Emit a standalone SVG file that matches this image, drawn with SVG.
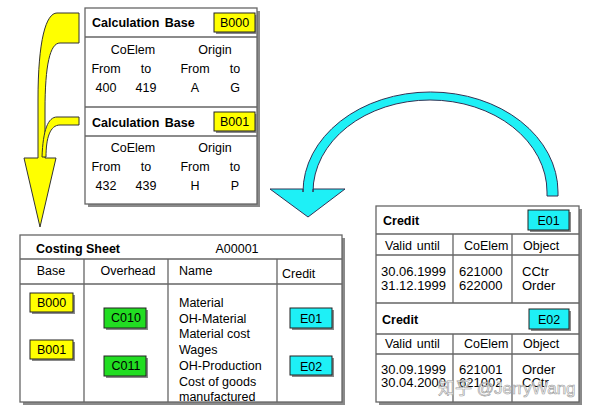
<svg xmlns="http://www.w3.org/2000/svg" width="600" height="417" viewBox="0 0 600 417">
<style>
text{font-family:"Liberation Sans",Arial,sans-serif;font-size:12.5px;fill:#000}
.b{font-weight:bold}
.m{text-anchor:middle}
.box{fill:#fff;stroke:#666;stroke-width:1.3}
.sh{fill:#8a8a8a}
.ln{stroke:#666;stroke-width:1.3;fill:none}
.tag{stroke:#222;stroke-width:1}
.y{fill:#ffff00}
.g{fill:#22dd22}
.c{fill:#1ef0f6}
.d{font-size:13px}
</style>
<g id="connectors">
<path id="yellow-arrow" d="M79,13 L57,13 C46,13 38,40 38,100 L38,158 L24,158 L40,227 L56,158 L45,158 L45,110 C45,65 50,43 60,43 L79,43 Z" fill="#ffff00" stroke="#333" stroke-width="1"/>
<path id="yellow-branch" d="M79,117 L57,117 C48,117 43,130 42,157 L46,157 C46,138 50,125 60,125 L79,125 Z" fill="#ffff00" stroke="#333" stroke-width="1"/>
<path id="cyan-arrow" d="M558,196 L558,192 A127.5,100 0 0 0 303,192 L303,189 L270,189 L308,217 L345,189 L313,189 L313,192 A117,92 0 0 1 547,192 L547,196 Z" fill="#1ef0f6" stroke="#335" stroke-width="1"/>
</g>
<g id="calc-base">
<rect class="sh" x="88" y="11" width="172" height="196"/>
<rect class="box" x="85" y="8" width="172" height="196"/>
<path class="ln" d="M85,37H257M85,107H257M85,136H257"/>
<text class="b" x="92" y="27" word-spacing="2">Calculation Base</text>
<rect class="sh" x="216" y="15" width="41" height="19"/>
<rect class="tag y" x="214" y="13" width="41" height="19"/>
<text class="m" x="234.5" y="27">B000</text>
<text class="m" x="133" y="54">CoElem</text>
<text class="m" x="215" y="54">Origin</text>
<text class="m" x="106" y="73">From</text>
<text class="m" x="146" y="73">to</text>
<text class="m" x="195" y="73">From</text>
<text class="m" x="235" y="73">to</text>
<text class="m" x="106" y="92">400</text>
<text class="m" x="146" y="92">419</text>
<text class="m" x="195" y="92">A</text>
<text class="m" x="235" y="92">G</text>
<text class="b" x="92" y="127" word-spacing="2">Calculation Base</text>
<rect class="sh" x="216" y="114" width="41" height="19"/>
<rect class="tag y" x="214" y="112" width="41" height="19"/>
<text class="m" x="234.5" y="126">B001</text>
<text class="m" x="133" y="152">CoElem</text>
<text class="m" x="215" y="152">Origin</text>
<text class="m" x="106" y="171">From</text>
<text class="m" x="146" y="171">to</text>
<text class="m" x="195" y="171">From</text>
<text class="m" x="235" y="171">to</text>
<text class="m" x="106" y="190">432</text>
<text class="m" x="146" y="190">439</text>
<text class="m" x="195" y="190">H</text>
<text class="m" x="235" y="190">P</text>
</g>
<g id="costing-sheet">
<rect class="sh" x="23" y="238" width="322" height="167"/>
<rect class="box" x="20" y="235" width="322" height="167"/>
<path class="ln" d="M20,259H342M20,284H342M84,259V402M168,259V402M277,259V402"/>
<text class="b" x="36" y="253">Costing Sheet</text>
<text class="m" x="237" y="253">A00001</text>
<text class="m" x="51" y="275">Base</text>
<text class="m" x="128" y="275">Overhead</text>
<text x="179" y="275">Name</text>
<text x="282" y="278">Credit</text>
<rect class="sh" x="32" y="295" width="43" height="19"/>
<rect class="tag y" x="30" y="293" width="43" height="19"/>
<text class="m" x="51.5" y="307">B000</text>
<rect class="sh" x="32" y="342" width="43" height="19"/>
<rect class="tag y" x="30" y="340" width="43" height="19"/>
<text class="m" x="51.5" y="354">B001</text>
<rect class="sh" x="106" y="310" width="42" height="20"/>
<rect class="tag g" x="104" y="308" width="42" height="20"/>
<text class="m" x="126" y="322">C010</text>
<rect class="sh" x="106" y="358" width="42" height="20"/>
<rect class="tag g" x="104" y="356" width="42" height="20"/>
<text class="m" x="126" y="370">C011</text>
<rect class="sh" x="292" y="310" width="42" height="20"/>
<rect class="tag c" x="290" y="308" width="42" height="20"/>
<text class="m" x="311" y="323">E01</text>
<rect class="sh" x="292" y="358" width="42" height="19"/>
<rect class="tag c" x="290" y="356" width="42" height="19"/>
<text class="m" x="311" y="371">E02</text>
<text x="179" y="307">Material</text>
<text x="179" y="323">OH-Material</text>
<text x="179" y="338">Material cost</text>
<text x="179" y="354">Wages</text>
<text x="179" y="370">OH-Production</text>
<text x="179" y="386">Cost of goods</text>
<text x="179" y="401">manufactured</text>
</g>
<g id="credit">
<rect class="sh" x="379" y="209" width="203" height="196"/>
<rect class="box" x="376" y="206" width="203" height="196"/>
<path class="ln" d="M376,234H579M376,255H579M376,303H579M376,334H579M376,354H579M453,234V303M512,234V303M453,334V402M512,334V402"/>
<text class="b" x="383" y="225">Credit</text>
<rect class="sh" x="530" y="212" width="41" height="20"/>
<rect class="tag c" x="528" y="210" width="41" height="20"/>
<text class="m" x="548.5" y="225">E01</text>
<text x="385" y="250" word-spacing="1.5">Valid until</text>
<text x="464" y="250">CoElem</text>
<text x="523" y="250">Object</text>
<text class="d" x="381" y="276">30.06.1999</text>
<text class="d" x="381" y="290">31.12.1999</text>
<text class="d" x="459" y="276">621000</text>
<text class="d" x="459" y="290">622000</text>
<text class="d" x="522" y="276">CCtr</text>
<text class="d" x="522" y="290">Order</text>
<text class="b" x="382" y="324">Credit</text>
<rect class="sh" x="531" y="311" width="40" height="20"/>
<rect class="tag c" x="529" y="309" width="40" height="20"/>
<text class="m" x="549" y="324">E02</text>
<text x="385" y="348" word-spacing="1.5">Valid until</text>
<text x="464" y="348">CoElem</text>
<text x="523" y="348">Object</text>
<text class="d" x="381" y="374">30.09.1999</text>
<text class="d" x="381" y="387">30.04.2000</text>
<text class="d" x="459" y="374">621001</text>
<text class="d" x="459" y="387">621002</text>
<text class="d" x="522" y="374">Order</text>
<text class="d" x="522" y="387">CCtr</text>
<text x="438" y="394" style="font-family:'Liberation Sans','Noto Sans CJK SC',sans-serif;font-size:17px;fill:#fff;fill-opacity:0.75;stroke:#999;stroke-width:0.6">知乎 @JerryWang</text>
</g>
</svg>
